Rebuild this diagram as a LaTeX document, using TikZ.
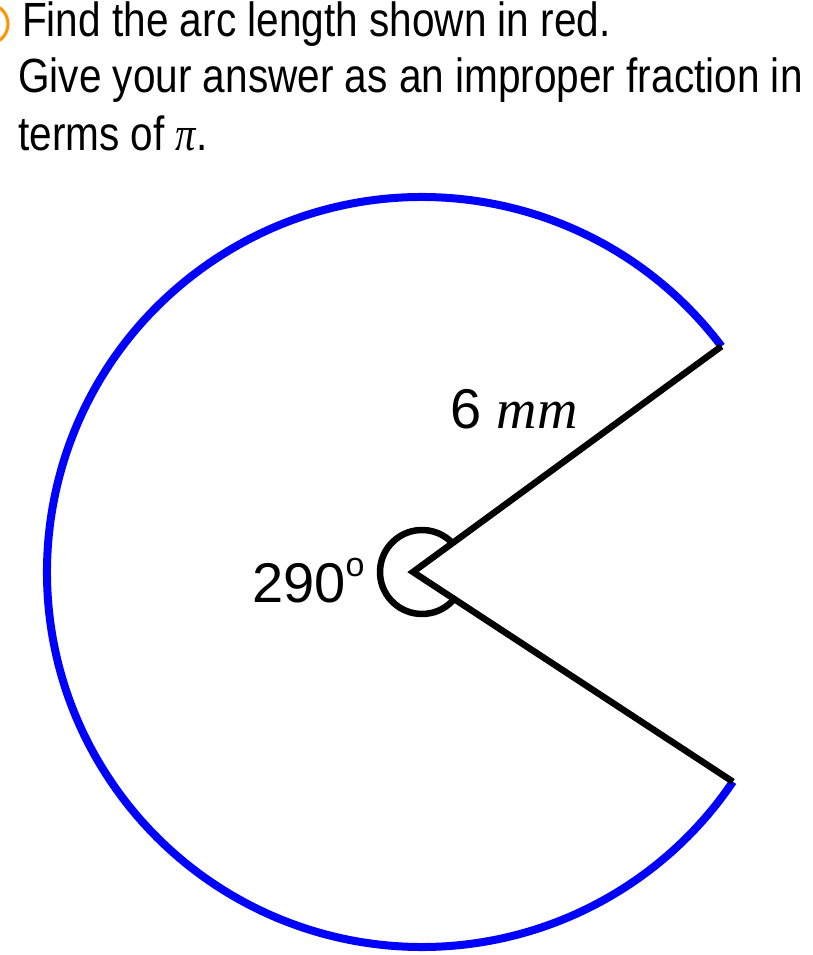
\documentclass[tikz,border=0pt]{standalone}
\usepackage{fontspec}
\usetikzlibrary{calc}
\setmainfont{Liberation Sans}
\newfontfamily\seriffont{Liberation Serif}
\begin{document}
\begin{tikzpicture}[x=1pt,y=-1pt,
  qtext/.style={anchor=base west,inner sep=0pt,font=\fontsize{48}{56}\selectfont},
  lbl/.style={anchor=base west,inner sep=0pt,font=\fontsize{56}{64}\selectfont},
  rim/.style={draw=blue,line width=8pt},
  edge/.style={draw=black,line width=6.5pt,line join=miter},
  anglemark/.style={draw=black,line width=6.5pt}]
\useasboundingbox (0,0) rectangle (812,955);
\begin{scope}
\clip (0,0) rectangle (812,955);
\draw[draw=orange!85!yellow,line width=3pt] (-12,24) circle (20);
\end{scope}
\node[qtext] (q1) at (22,37) {\scalebox{0.845}[1]{Find the arc length shown in red.}};
\node[qtext] (q2) at (18,93) {\scalebox{0.845}[1]{Give your answer as an improper fraction in}};
\node[qtext] (q3) at (18,150) {\scalebox{0.845}[1]{terms of {\seriffont\itshape π}.}};
\coordinate (C) at (422,572);
\coordinate (V) at (413,572);
\coordinate (A) at ($(C)+(-37:375)$);
\coordinate (B) at ($(C)+(34:375)$);
\path[rim] (A) arc[start angle=-37,end angle=-326,radius=375];
\path[edge] (A) -- (V) -- (B);
\path[anglemark] ($(C)+(-43:42)$) arc[start angle=-43,end angle=-318,radius=42];
\node[lbl] (r) at (450,428) {6 {\seriffont\itshape mm}};
\node[lbl] (ang) at (252,602) {290\raisebox{0.45em}{\fontsize{34}{40}\selectfont o}};
\end{tikzpicture}
\end{document}
